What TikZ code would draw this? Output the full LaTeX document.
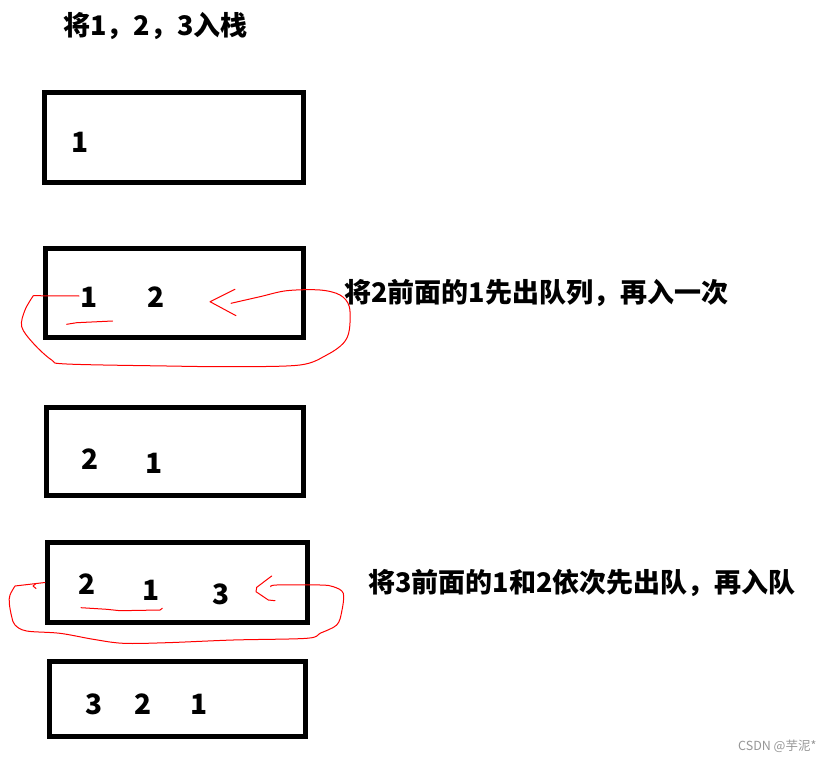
\documentclass[tikz,border=0pt]{standalone}
\usepackage{fontspec}
\setmainfont{Noto Sans CJK SC}
\usepackage{xcolor}
\usetikzlibrary{calc}
\definecolor{wmgray}{RGB}{150,150,150}
\tikzset{
	stackbox/.style={draw, line width=5pt, inner sep=0pt},
	num/.style={font=\bfseries\fontsize{28}{28}\selectfont, inner sep=0pt},
	note/.style={font=\bfseries\fontsize{27}{27}\selectfont, anchor=west, inner sep=0pt},
	freehand/.style={red, line width=1pt, line join=round, line cap=round}
}

\begin{document}
\begin{tikzpicture}[x=1pt,y=-1pt]
            \useasboundingbox (0,0) rectangle (835,762);

            % Title
            \node[note] (title) at (63,26) {将1，2，3入栈};

            % The five states of the stack
            \foreach \n/\cx/\cy/\w/\h in {s1/174/137.5/259/90, s2/174.6/293.2/258/88.5, s3/175/451.5/257/88, s4/177.5/582.5/260/80, s5/177.5/699/256/75} {
                \node[stackbox, minimum width=\w pt, minimum height=\h pt] (\n) at (\cx,\cy) {};
            }

            % Elements inside the boxes
            \foreach \t/\x/\y [count=\i] in {1/80/142, 1/89.5/297, 2/156/297, 2/90/459, 1/154/463, 2/87/584.5, 1/151.5/590, 3/221/594.5, 3/94/704, 2/143/704, 1/199/704} {
                \node[num] (d\i) at (\x,\y) {\t};
            }

            % Notes on the right
            \node[note] (note1) at (344,293) {将2前面的1先出队列，再入一次};
            \node[note] (note2) at (368,583) {将3前面的1和2依次先出队，再入队};

            % Red marks, first loop
            \draw[freehand] (79,296) -- (33.3,295.7) plot[smooth, tension=0.55] coordinates {(33.3,295.7) (25,310) (21.7,326.7) (33.3,343.3) (51.7,360) (66.7,364) (166.7,366) (233.3,366.7) (300,365) (326.7,355) (343.3,343.3) (349.3,330) (349.3,306.7) (340,295) (320,290) (286.7,290.7) (260,296.7) (231,303.3)};
            \draw[freehand] (235,289.3) -- (210,301.7) -- (236,315.7);
            \draw[freehand] (66.7,324.3) -- (76.7,322.7) -- (112.7,321);

            % Red marks, second loop
            \draw[freehand] (s4.west) -- (15,586) plot[smooth, tension=0.55] coordinates {(15,586) (10,595) (9.3,603.3) (11.7,616.7) (15,625) (26.7,631) (60,633.3) (93.3,639.3) (123.3,643.3) (166.7,642.7) (233.3,640) (306.7,638.3) (320,633.3) (336.7,625) (341.7,611.7) (343.3,593.3) (333.3,586.7) (320,585) (276.7,585) (270.7,586.7)};
            \draw[freehand] (36,583.5) -- (33,586) -- (36,588.5);
            \draw[freehand] (271.7,576) -- (256.7,587.3) -- (256,591.7) -- (268.3,600) -- (275,600.7);
            \draw[freehand] (81,607.7) -- (106.7,609.3) -- (120,610.7) -- (160,610) -- (162.3,608.3);

            % Watermark
            \node[anchor=west, inner sep=0pt, text=wmgray, font=\fontsize{12.5}{12.5}\selectfont] (mark) at (738,746) {CSDN @芋泥*};
        \end{tikzpicture}
\end{document}
